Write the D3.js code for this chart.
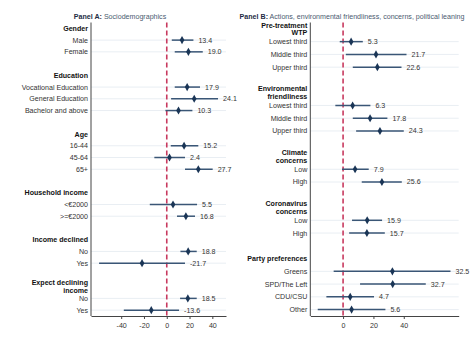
<!DOCTYPE html>
<html>
<head>
<meta charset="utf-8">
<script src="https://cdn.jsdelivr.net/npm/d3@7"></script>
<style>
  body { margin: 0; background: #fff; }
  svg text { font-family: "Liberation Sans", Arial, sans-serif; }
</style>
</head>
<body>
<div id="chart"></div>
<script>
// Panel A: sociodemographics
var groupsA = ["Gender", "Education", "Age", "Household income", "Income declined", "Expect declining\nincome"];
var itemsA = [
  ["Male", "Female"],
  ["Vocational Education", "General Education", "Bachelor and above"],
  ["16-44", "45-64", "65+"],
  ["<€2000", ">=€2000"],
  ["No", "Yes"],
  ["No", "Yes"]
];
var estA = [[13.4, 19.0], [17.9, 24.1, 10.3], [15.2, 2.4, 27.7], [5.5, 16.8], [18.8, -21.7], [18.5, -13.6]];
var loA  = [[4.4, 7.0], [7.0, 3.8, -1.2], [3.5, -10.9, 16.0], [-14.9, 9.0], [12.0, -59.4], [11.7, -37.7]];
var hiA  = [[23.4, 31.6], [29.2, 45.0, 22.5], [27.7, 16.0, 40.3], [26.6, 24.8], [26.3, 16.0], [26.3, 10.8]];
var ticksA = [-40, -20, 0, 20, 40];

// Panel B: actions, environmental friendliness, concerns, political leaning
var groupsB = ["Pre-treatment\nWTP", "Environmental\nfriendliness", "Climate\nconcerns", "Coronavirus\nconcerns", "Party preferences"];
var itemsB = [
  ["Lowest third", "Middle third", "Upper third"],
  ["Lowest third", "Middle third", "Upper third"],
  ["Low", "High"],
  ["Low", "High"],
  ["Greens", "SPD/The Left", "CDU/CSU", "Other"]
];
var estB = [[5.3, 21.7, 22.6], [6.3, 17.8, 24.3], [7.9, 25.6], [15.9, 15.7], [32.5, 32.7, 4.7, 5.6]];
var loB  = [[-2.2, 1.8, 6.4], [-5.1, 6.4, 8.6], [-0.7, 12.3], [5.9, 4.0], [-6.2, 11.2, -11.0, -16.7]];
var hiB  = [[13.0, 41.8, 38.5], [18.0, 29.2, 40.0], [16.9, 38.7], [25.7, 27.5], [70.8, 54.5, 20.4, 27.9]];
var ticksB = [0, 20, 40];

var W = 474, H = 345;
var plotTop = 22.5, plotBottom = 316;
var fs = 7.1;

var svg = d3.select("#chart").append("svg")
  .attr("width", W).attr("height", H);

// flatten groups into rows: header, items, spacer
function buildRows(groups, items, est, lo, hi) {
  var rows = [];
  groups.forEach(function(g, i) {
    rows.push({type: "header", label: g});
    items[i].forEach(function(name, j) {
      rows.push({type: "item", label: name, est: est[i][j], lo: lo[i][j], hi: hi[i][j]});
    });
    if (i < groups.length - 1) rows.push({type: "blank"});
  });
  rows.forEach(function(r, i) { r.i = i; });
  return rows;
}

function drawPanel(opts) {
  var rows = buildRows(opts.groups, opts.items, opts.est, opts.lo, opts.hi);
  var g = svg.append("g");

  var x = d3.scaleLinear().domain(opts.domain).range([opts.left, opts.right]);
  var y = d3.scaleLinear().domain([-0.5, rows.length - 0.5]).range([plotTop, plotBottom]);

  // title
  var title = g.append("text")
    .attr("x", opts.titleX).attr("y", 19)
    .attr("text-anchor", "middle")
    .attr("font-size", 7.1);
  title.append("tspan").attr("font-weight", "bold").attr("fill", "#1d2c44").text(opts.titleBold);
  title.append("tspan").attr("fill", "#4b5b70").text(" " + opts.titleRest);

  var items = rows.filter(function(r) { return r.type == "item"; });
  var headers = rows.filter(function(r) { return r.type == "header"; });

  // gridlines
  g.selectAll(".grid").data(items).enter().append("line")
    .attr("class", "grid")
    .attr("x1", opts.left).attr("x2", opts.right)
    .attr("y1", function(d) { return y(d.i); })
    .attr("y2", function(d) { return y(d.i); })
    .attr("stroke", "#e9eef3").attr("stroke-width", 1);

  // zero reference
  g.append("line")
    .attr("x1", x(0)).attr("x2", x(0))
    .attr("y1", plotTop).attr("y2", plotBottom)
    .attr("stroke", "#c83a5f").attr("stroke-width", 1.6)
    .attr("stroke-dasharray", "5,3");

  // confidence intervals
  g.selectAll(".ci").data(items).enter().append("line")
    .attr("class", "ci")
    .attr("x1", function(d) { return x(d.lo); })
    .attr("x2", function(d) { return x(d.hi); })
    .attr("y1", function(d) { return y(d.i); })
    .attr("y2", function(d) { return y(d.i); })
    .attr("stroke", "#3a5676").attr("stroke-width", 1.5);

  // point estimates
  g.selectAll(".pt").data(items).enter().append("path")
    .attr("class", "pt")
    .attr("d", d3.symbol().type(d3.symbolDiamond).size(19))
    .attr("transform", function(d) { return "translate(" + x(d.est) + "," + y(d.i) + ")"; })
    .attr("fill", "#1a3556");

  // value labels
  g.selectAll(".val").data(items).enter().append("text")
    .attr("class", "val")
    .attr("x", function(d) { return x(d.hi) + 5; })
    .attr("y", function(d) { return y(d.i); })
    .attr("dy", "0.35em")
    .attr("font-size", fs).attr("fill", "#333")
    .text(function(d) { return d.est.toFixed(1); });

  // row labels
  g.selectAll(".lab").data(items).enter().append("text")
    .attr("class", "lab")
    .attr("x", opts.left - 3)
    .attr("y", function(d) { return y(d.i); })
    .attr("dy", "0.35em")
    .attr("text-anchor", "end")
    .attr("font-size", fs).attr("fill", "#333")
    .text(function(d) { return d.label; });

  // group headers (may wrap onto two lines)
  headers.forEach(function(h) {
    var lines = h.label.split("\n");
    var t = g.append("text")
      .attr("text-anchor", "end")
      .attr("font-size", fs).attr("font-weight", "bold").attr("fill", "#111");
    lines.forEach(function(s, k) {
      t.append("tspan")
        .attr("x", opts.left - 3)
        .attr("y", y(h.i) + (k - (lines.length - 1) / 2) * 7.5)
        .attr("dy", "0.35em")
        .text(s);
    });
  });

  // left axis line
  g.append("line")
    .attr("x1", opts.left).attr("x2", opts.left)
    .attr("y1", plotTop).attr("y2", plotBottom)
    .attr("stroke", "#444").attr("stroke-width", 1);

  // bottom axis
  var ax = g.append("g")
    .attr("transform", "translate(0," + plotBottom + ")")
    .call(d3.axisBottom(x).tickValues(opts.ticks).tickFormat(function(d) { return String(d); })
      .tickSize(3).tickSizeOuter(0).tickPadding(4));
  ax.select(".domain").attr("stroke", "#444");
  ax.selectAll(".tick line").attr("stroke", "#444");
  ax.selectAll("text").attr("font-size", fs).attr("fill", "#333")
    .attr("font-family", "Liberation Sans, Arial, sans-serif");
}

drawPanel({
  groups: groupsA, items: itemsA, est: estA, lo: loA, hi: hiA, ticks: ticksA,
  domain: [-66.5, 52], left: 91, right: 226,
  titleX: 120, titleBold: "Panel A:", titleRest: "Sociodemographics"
});

drawPanel({
  groups: groupsB, items: itemsB, est: estB, lo: loB, hi: hiB, ticks: ticksB,
  domain: [-21.6, 76.2], left: 310.3, right: 458.7,
  titleX: 352, titleBold: "Panel B:", titleRest: "Actions, environmental friendliness, concerns, political leaning"
});
</script>
</body>
</html>
